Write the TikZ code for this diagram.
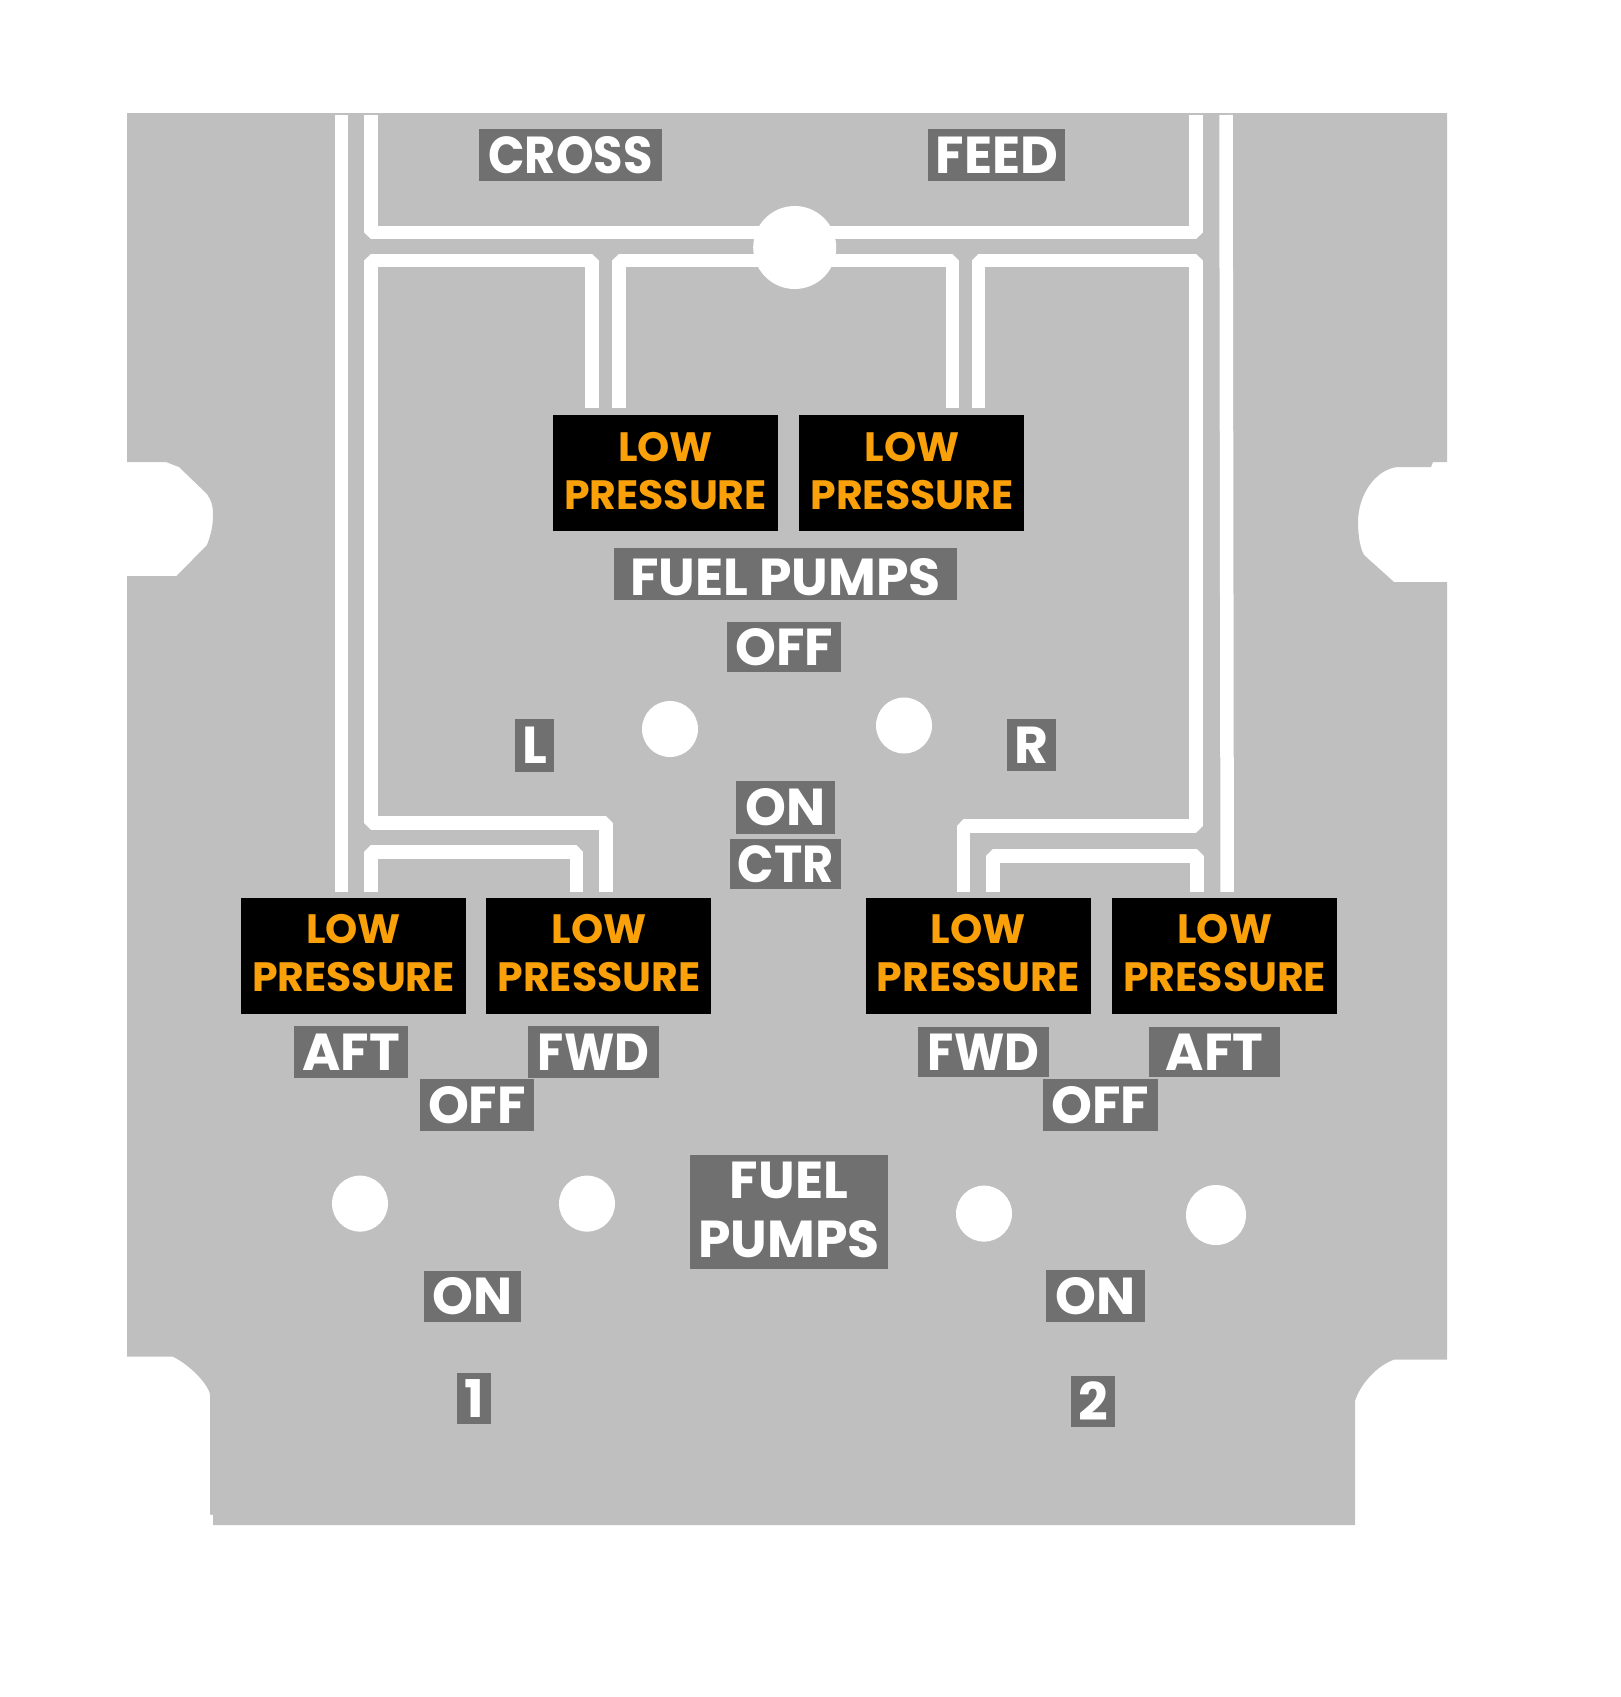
\documentclass[tikz,border=0pt]{standalone}
\usepackage{fontspec}
\setmainfont{Poppins}
\newfontfamily\narrowfont[FakeStretch=0.92]{Poppins}
\usetikzlibrary{
  calc,
  positioning,
}
\definecolor{panelgrey}{RGB}{191, 191, 191}
\definecolor{plategrey}{RGB}{112, 112, 112}
\definecolor{lamporange}{RGB}{250, 160, 8}
\tikzstyle{plate} = [
  rectangle,
  fill=plategrey,
  text=white,
  inner sep=0,
  align=center,
  font=\fontsize{52}{59}\selectfont\bfseries,
]
\tikzstyle{narrowplate} = [
  plate,
  font=\fontsize{52}{59}\narrowfont\bfseries,
]
\tikzstyle{lamp} = [
  rectangle,
  fill=black,
  text=lamporange,
  inner sep=0,
  minimum width=225,
  minimum height=115.5,
  text depth=5,
  align=center,
  font=\fontsize{41}{48}\selectfont\bfseries,
]
\tikzstyle{switch} = [circle,fill=white,inner sep=0,minimum size=56]
\tikzstyle{pipe} = [white,line width=13.5,line join=bevel]

\begin{document}
\begin{tikzpicture}[x=1pt,y=-1pt,node distance=0mm and 0mm]
      \useasboundingbox (0,0) rectangle (1621,1697);

      % panel outline with its four cut-outs
      \fill[panelgrey] (127,113) -- (1447,113) -- (1447,462) -- (1433,462) -- (1431,467) -- (1397,467)
        .. controls (1375,470) and (1358,495) .. (1358,522)
        .. controls (1358,535) and (1360,548) .. (1364,555)
        -- (1394,582) -- (1447,582) -- (1447,1359.6) -- (1394,1359.6)
        .. controls (1376,1366) and (1360,1385) .. (1355,1401)
        -- (1355,1525) -- (213,1525) -- (213,1515) -- (210,1514.5) -- (210,1394)
        .. controls (206,1380) and (185,1362) .. (172.4,1356.5)
        -- (127,1356.5) -- (127,576) -- (176.5,576) -- (207,545)
        .. controls (211,535) and (213,525) .. (213,515)
        .. controls (213,505) and (211,500) .. (207,494)
        -- (179,467) -- (166,462) -- (127,462) -- cycle;

      % annunciators
      \node[lamp] (lowc1) at (665.5,473) {LOW\\PRESSURE};
      \node[lamp,xshift=21] (lowc2) [right=of lowc1] {LOW\\PRESSURE};
      \node[lamp] (lowa1) at (353.5,955.8) {LOW\\PRESSURE};
      \node[lamp,xshift=20] (lowa2) [right=of lowa1] {LOW\\PRESSURE};
      \node[lamp,xshift=154] (lowa3) [right=of lowa2] {LOW\\PRESSURE};
      \node[lamp,xshift=21] (lowa4) [right=of lowa3] {LOW\\PRESSURE};

      % pipe ends
      \coordinate (topa) at (341.5,115);
      \coordinate (topb) at (371,115);
      \coordinate (topc) at (1196,115);
      \coordinate (topd) at (1226,115);
      \coordinate (crossup) at (794.7,232.5);
      \coordinate (crosslow) at (794.7,260.5);
      \coordinate (bendl) at (371,260.5);
      \coordinate (bendr) at (1196,260.5);
      \coordinate (dropl) at (371,823);
      \coordinate (dropr) at (1196,826);
      \coordinate (dropll) at (371,852);
      \coordinate (droprr) at (1196,856);
      \coordinate (portc1) at ([xshift=-73.5]lowc1.north);
      \coordinate (portc2) at ([xshift=-46.5]lowc1.north);
      \coordinate (portc3) at ([xshift=40.5]lowc2.north);
      \coordinate (portc4) at ([xshift=66.5]lowc2.north);
      \coordinate (porta1) at ([xshift=-12]lowa1.north);
      \coordinate (porta2) at ([xshift=17.5]lowa1.north);
      \coordinate (porta3) at ([xshift=-22.5]lowa2.north);
      \coordinate (porta4) at ([xshift=7]lowa2.north);
      \coordinate (porta5) at ([xshift=-15]lowa3.north);
      \coordinate (porta6) at ([xshift=14.5]lowa3.north);
      \coordinate (porta7) at ([xshift=-27.5]lowa4.north);
      \coordinate (porta8) at ([xshift=2.5]lowa4.north);

      \draw[pipe,shorten >=6] (topa) -- (porta1);
      \draw[pipe,shorten >=6] (topd) -- (porta8);
      \draw[pipe] (topb) |- (crossup);
      \draw[pipe] (topc) |- (crossup);
      \draw[pipe,shorten >=7.4] (crosslow) -| (portc2);
      \draw[pipe,shorten >=7.4] (crosslow) -| (portc3);
      \draw[pipe,shorten <=7.4,shorten >=6] (portc1) |- (bendl) -- (dropl) -| (porta4);
      \draw[pipe,shorten <=7.4,shorten >=6] (portc4) |- (bendr) -- (dropr) -| (porta5);
      \draw[pipe,shorten <=6,shorten >=6] (porta2) |- (dropll) -| (porta3);
      \draw[pipe,shorten <=6,shorten >=6] (porta6) |- (droprr) -| (porta7);

      % switches
      \node[switch,minimum size=83] (crossvalve) at (794.7,247.5) {};
      \node[switch] (pumpl) at (670,729) {};
      \node[switch] (pumpr) at (904,725.5) {};
      \node[switch] (pump1a) at (360,1203.6) {};
      \node[switch] (pump1b) at (587,1203.6) {};
      \node[switch] (pump2a) at (984,1213.6) {};
      \node[switch,minimum size=60] (pump2b) at (1216,1215) {};

      % engraved plates
      \node[narrowplate,minimum width=183,minimum height=52] (cross) at (570.5,155) {CROSS};
      \node[plate,minimum width=137,minimum height=52,xshift=266] (feed) [right=of cross] {FEED};
      \node[plate,minimum width=343,minimum height=51.5,text height=43] (fuelpumps) at (785.5,574.2) {FUEL PUMPS};
      \node[plate,minimum width=114,minimum height=50.5] (offc) at (784,646.8) {OFF};
      \node[plate,minimum width=39,minimum height=53] (platel) at (534.5,745.5) {L};
      \node[plate,minimum width=49,minimum height=52] (plater) at (1031.5,745) {R};
      \node[plate,minimum width=99,minimum height=53] (onc) at (785.5,807.5) {ON};
      \node[narrowplate,minimum width=111,minimum height=50] (ctr) at (785.5,864) {CTR};
      \node[plate,minimum width=114,minimum height=52] (aft1) at (351,1052) {AFT};
      \node[narrowplate,minimum width=131,minimum height=52] (fwd1) at (593.5,1052) {FWD};
      \node[plate,minimum width=114,minimum height=52] (off1) at (477,1105) {OFF};
      \node[narrowplate,minimum width=131,minimum height=50] (fwd2) at (983.5,1052) {FWD};
      \node[plate,minimum width=131,minimum height=50] (aft2) at (1214.5,1052) {AFT};
      \node[plate,minimum width=115,minimum height=52] (off2) at (1100.5,1105) {OFF};
      \node[plate,minimum width=198,minimum height=114,text depth=5] (pumpsmid) at (789,1212) {FUEL\\PUMPS};
      \node[plate,minimum width=97,minimum height=50.5] (on1) at (472.5,1296.3) {ON};
      \node[plate,minimum width=99,minimum height=51.5] (on2) at (1095.5,1295.8) {ON};
      \node[plate,minimum width=34,minimum height=51] (num1) at (474,1398.5) {1};
      \node[plate,minimum width=44,minimum height=50.6] (num2) at (1093,1401.3) {2};
    \end{tikzpicture}
\end{document}
